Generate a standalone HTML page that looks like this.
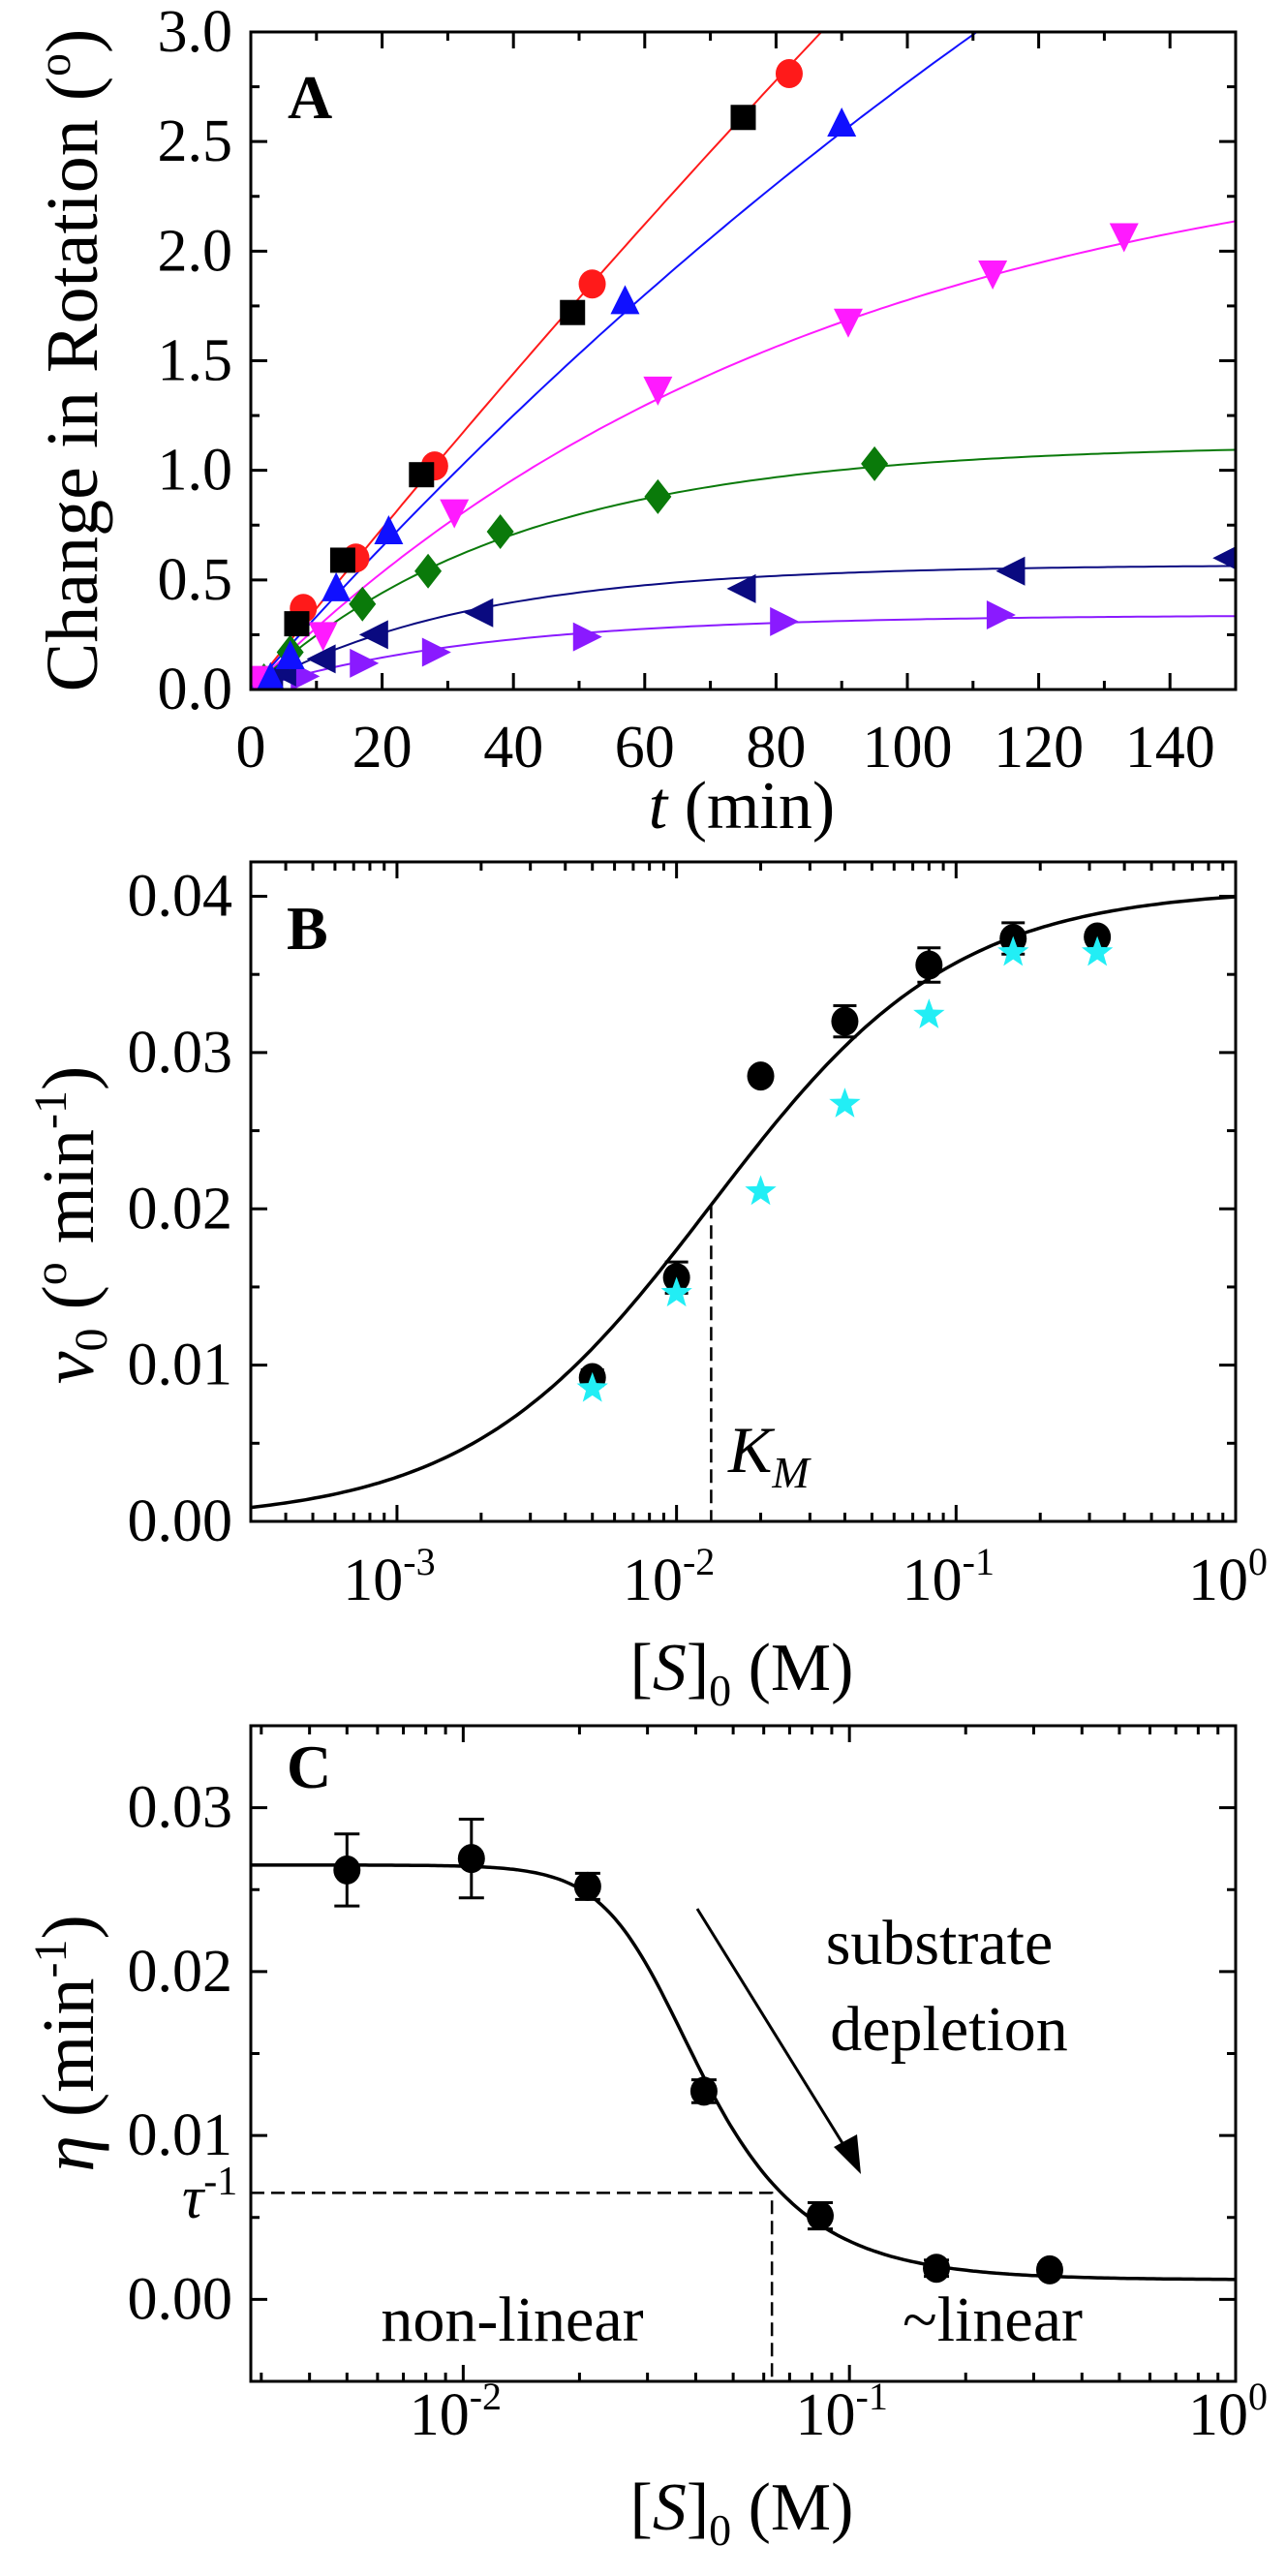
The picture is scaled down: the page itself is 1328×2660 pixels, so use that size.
<!DOCTYPE html>
<html><head><meta charset="utf-8"><style>
html,body{margin:0;padding:0;background:#fff;}
svg, svg text, svg tspan{font-family:"Liberation Serif","Times New Roman","Nimbus Roman","DejaVu Serif",serif;}
</style></head><body>
<svg id="fig" width="1328" height="2655" viewBox="0 0 1328 2655" xmlns="http://www.w3.org/2000/svg">
<rect width="1328" height="2655" fill="#fff"/>
</svg>
<script>
// ---------- Panel A data ----------
const aSeriesNames = ["black-squares","red-circles","blue-up","magenta-down","green-diamonds","navy-left","violet-right"];
const aColors = ["#000","#ff1a1a","#1010ff","#ff1aff","#0a7a0a","#0a0a80","#8a1aff"];
const aShapes = ["square","circle","up","down","diamond","left","right"];
const aT0 = [7,14,26,49,75];
const aV0 = [0.30,0.59,0.98,1.72,2.61];
const aT1 = [8,16,28,52,82];
const aV1 = [0.37,0.60,1.02,1.85,2.81];
const aT2 = [3,6,13,21,57,90];
const aV2 = [0.05,0.15,0.46,0.72,1.77,2.58];
const aT3 = [1,11,31,62,91,113,133];
const aV3 = [0.05,0.25,0.81,1.37,1.68,1.90,2.07];
const aT4 = [2,6,17,27,38,62,95];
const aV4 = [0.04,0.17,0.39,0.54,0.72,0.88,1.03];
const aT5 = [3,5,11,19,35,75,116,149];
const aV5 = [0.04,0.08,0.14,0.25,0.35,0.46,0.54,0.60];
const aT6 = [1,8,17,28,51,81,114];
const aV6 = [0.02,0.06,0.12,0.17,0.24,0.31,0.34];
const aFitA = [null,20,8,2.6,1.12,0.57,0.34];
const aFitK = [null,0.00187,0.00425,0.0115,0.025,0.03,0.028];
const aXTicks = [0,20,40,60,80,100,120,140];
const aYTicks = [0.0,0.5,1.0,1.5,2.0,2.5,3.0];
const aYLabels = ["0.0","0.5","1.0","1.5","2.0","2.5","3.0"];

// ---------- Panel B data ----------
const bS = [0.005,0.01,0.02,0.04,0.08,0.16,0.32];
const bV = [0.0092,0.0156,0.0285,0.0320,0.0356,0.0373,0.0374];
const bErr = [0.0005,0.0010,0.0004,0.0010,0.0011,0.0010,0.0003];
const bStar = [0.0085,0.0146,0.0211,0.0267,0.0324,0.0364,0.0364];
const bVmax = [0.0405];
const bKm = [0.0133];
const bYTicks = [0,0.01,0.02,0.03,0.04];
const bYLabels = ["0.00","0.01","0.02","0.03","0.04"];
const bXDecades = [-3,-2,-1,0];

// ---------- Panel C data ----------
const cS = [0.005,0.0105,0.021,0.042,0.084,0.168,0.33];
const cEta = [0.0262,0.0269,0.0252,0.0127,0.0051,0.0019,0.0018];
const cErr = [0.0022,0.0024,0.0008,0.0007,0.0008,0.0005,0.0003];
const cFit = [0.0265,0.0012,0.031,4.5,0.45];
const cTau = [0.0065,0.063];
const cYTicks = [0,0.01,0.02,0.03];
const cYLabels = ["0.00","0.01","0.02","0.03"];
const cXDecades = [-2,-1,0];

const NS="http://www.w3.org/2000/svg";
const FONT='"Liberation Serif","Times New Roman","Nimbus Roman","DejaVu Serif",serif';
const svg=document.getElementById('fig');
function el(tag,attrs,parent){const e=document.createElementNS(NS,tag);for(const k in attrs)e.setAttribute(k,attrs[k]);(parent||svg).appendChild(e);return e;}

const L=259,R=1276;
const A={top:33,bot:712,xmin:0,xmax:150,ymin:0,ymax:3.0};
const B={top:890,bot:1571,lmin:Math.log10(3e-4),lmax:0,ymin:0,ymax:0.0422};
const C={top:1782,bot:2459,lmin:-2.55,lmax:0,ymin:-0.005,ymax:0.035};
const axA={x:t=>L+(t-A.xmin)/(A.xmax-A.xmin)*(R-L),y:v=>A.bot-(v-A.ymin)/(A.ymax-A.ymin)*(A.bot-A.top)};
const axB={x:s=>L+(Math.log10(s)-B.lmin)/(B.lmax-B.lmin)*(R-L),y:v=>B.bot-(v-B.ymin)/(B.ymax-B.ymin)*(B.bot-B.top)};
const axC={x:s=>L+(Math.log10(s)-C.lmin)/(C.lmax-C.lmin)*(R-L),y:v=>C.bot-(v-C.ymin)/(C.ymax-C.ymin)*(C.bot-C.top)};

function frame(P,name){
  const r=el('rect',{x:L,y:P.top,width:R-L,height:P.bot-P.top,fill:'none',stroke:'#000','stroke-width':3});
  
  
}
function vtick(x,P,len,g){el('line',{x1:x,y1:P.bot,x2:x,y2:P.bot-len,stroke:'#000','stroke-width':3},g);el('line',{x1:x,y1:P.top,x2:x,y2:P.top+len,stroke:'#000','stroke-width':3},g);}
function htick(y,len,g){el('line',{x1:L,y1:y,x2:L+len,y2:y,stroke:'#000','stroke-width':3},g);el('line',{x1:R,y1:y,x2:R-len,y2:y,stroke:'#000','stroke-width':3},g);}
function text(x,y,str,attrs,parent){const t=el('text',Object.assign({x:x,y:y,'font-size':54,fill:'#000'},attrs||{}),parent);t.style.fontFamily=FONT;t.textContent=str;return t;}

function marker(shape,x,y,color,parent){
  let m;const s=15;
  if(shape==='circle') m=el('ellipse',{cx:x,cy:y,rx:14,ry:15,fill:color},parent);
  else if(shape==='square') m=el('rect',{x:x-13,y:y-13,width:26,height:26,fill:color},parent);
  else{
    let p;
    if(shape==='up')p=[[x,y-s-2],[x-s,y+s-2],[x+s,y+s-2]];
    if(shape==='down')p=[[x,y+s+2],[x-s,y-s+2],[x+s,y-s+2]];
    if(shape==='left')p=[[x-s-2,y],[x+s-2,y-s],[x+s-2,y+s]];
    if(shape==='right')p=[[x+s+2,y],[x-s+2,y-s],[x-s+2,y+s]];
    if(shape==='diamond')p=[[x,y-18],[x+14,y],[x,y+18],[x-14,y]];
    if(shape==='star'){p=[];for(let i=0;i<10;i++){const a=-Math.PI/2+i*Math.PI/5;const r=i%2?7:17;p.push([x+r*Math.cos(a),y+r*Math.sin(a)]);}}
    m=el('polygon',{points:p.map(q=>q.join(',')).join(' '),fill:color},parent);
  }
  return m;
}

// ================= Panel A =================
const gA=el('g',{});
const clipA=el('clipPath',{id:'clipA'});el('rect',{x:L,y:A.top,width:R-L,height:A.bot-A.top},clipA);
const curvesA=el('g',{'clip-path':'url(#clipA)'},gA);
for(let i=1;i<aFitA.length;i++){
  let d='';for(let t=0;t<=150;t+=1){const v=aFitA[i]*(1-Math.exp(-aFitK[i]*t));d+=(t?'L':'M')+axA.x(t).toFixed(1)+','+axA.y(v).toFixed(1);}
  const p=el('path',{d:d,fill:'none',stroke:aColors[i],'stroke-width':2},curvesA);
  
  
}
const aTs=[aT0,aT1,aT2,aT3,aT4,aT5,aT6],aVs=[aV0,aV1,aV2,aV3,aV4,aV5,aV6];
for(let i=aTs.length-1;i>=0;i--){
  const g=el('g',{},curvesA);
  
  
  aTs[i].forEach((t,j)=>{const m=marker(aShapes[i],axA.x(t),axA.y(aVs[i][j]),aColors[i],g);
    
    });
}
frame(A,'panel-a');
for(let t=0;t<=150;t+=10){vtick(axA.x(t),A,t%20===0?17:9,gA);}
aXTicks.forEach(t=>{const tx=text(axA.x(t),A.bot+80,String(t),{'text-anchor':'middle','font-size':62},gA);
  });
for(let v=0;v<=3.0001;v+=0.25){htick(axA.y(v),Math.abs(v*2-Math.round(v*2))<1e-6?17:9,gA);}
aYTicks.forEach((v,i)=>{const tx=text(240,axA.y(v)+20,aYLabels[i],{'text-anchor':'end','font-size':62},gA);
  });
let t1=text(0,0,'',{'text-anchor':'middle','font-size':76,transform:'translate(100,372) rotate(-90)'},gA);
t1.innerHTML='Change in Rotation (<tspan dy="-28" font-size="48">o</tspan><tspan dy="28">)</tspan>';

t1=text(766,855,'',{'text-anchor':'middle','font-size':70},gA);
t1.innerHTML='<tspan font-style="italic">t</tspan> (min)';

t1=text(297,122,'A',{'font-size':64,'font-weight':'bold'},gA);


// ================= Panel B =================
const gB=el('g',{});
let d='';for(let i=0;i<=200;i++){const l=B.lmin+(B.lmax-B.lmin)*i/200;const s=Math.pow(10,l);const v=bVmax[0]*s/(bKm[0]+s);d+=(i?'L':'M')+axB.x(s).toFixed(1)+','+axB.y(v).toFixed(1);}
t1=el('path',{d:d,fill:'none',stroke:'#000','stroke-width':3.5},gB);

t1=el('line',{x1:axB.x(bKm[0]),x2:axB.x(bKm[0]),y1:axB.y(bVmax[0]/2),y2:B.bot,stroke:'#000','stroke-width':2.5,'stroke-dasharray':'14,7'},gB);

const gBc=el('g',{},gB);
bS.forEach((s,i)=>{const x=axB.x(s);
  el('line',{x1:x,x2:x,y1:axB.y(bV[i]-bErr[i]),y2:axB.y(bV[i]+bErr[i]),stroke:'#000','stroke-width':3},gBc);
  el('line',{x1:x-12,x2:x+12,y1:axB.y(bV[i]+bErr[i]),y2:axB.y(bV[i]+bErr[i]),stroke:'#000','stroke-width':3},gBc);
  el('line',{x1:x-12,x2:x+12,y1:axB.y(bV[i]-bErr[i]),y2:axB.y(bV[i]-bErr[i]),stroke:'#000','stroke-width':3},gBc);
  const m=marker('circle',x,axB.y(bV[i]),'#000',gBc);
  });
const gBs=el('g',{},gB);
bS.forEach((s,i)=>{const m=marker('star',axB.x(s),axB.y(bStar[i]),'#22eef5',gBs);
  });
frame(B,'panel-b');
function logTicks(P,ax,lmin){
  for(let e=-4;e<=0;e++)for(let k=1;k<10;k++){const s=k*Math.pow(10,e);if(Math.log10(s)<lmin-1e-9||s>1.0001)continue;vtick(ax.x(s),P,k===1?17:9,svg);}
}
logTicks(B,axB,B.lmin);
bXDecades.forEach(e=>{const tx=text(axB.x(Math.pow(10,e))-8,B.bot+81,'',{'text-anchor':'middle','font-size':62},gB);
  tx.innerHTML='10<tspan dy="-26" font-size="40">'+e+'</tspan>';
  });
for(let i=0;i<=8;i++){htick(axB.y(i*0.005),i%2?9:17,gB);}
bYTicks.forEach((v,i)=>{const tx=text(240,axB.y(v)+20,bYLabels[i],{'text-anchor':'end','font-size':62},gB);
  });
t1=text(0,0,'',{'text-anchor':'middle','font-size':76,transform:'translate(96,1265) rotate(-90)'},gB);
t1.innerHTML='<tspan font-style="italic">v</tspan><tspan dy="14" font-size="48">0</tspan><tspan dy="-14"> (</tspan><tspan dy="-28" font-size="48">o</tspan><tspan dy="28"> min</tspan><tspan dy="-28" font-size="48">-1</tspan><tspan dy="28">)</tspan>';

t1=text(766,1745,'',{'text-anchor':'middle','font-size':70},gB);
t1.innerHTML='[<tspan font-style="italic">S</tspan>]<tspan dy="16" font-size="46">0</tspan><tspan dy="-16"> (M)</tspan>';

t1=text(752,1520,'',{'font-size':68,'font-style':'italic'},gB);
t1.innerHTML='K<tspan dy="16" font-size="46">M</tspan>';

t1=text(296,980,'B',{'font-size':64,'font-weight':'bold'},gB);


// ================= Panel C =================
const gC=el('g',{});
d='';for(let i=0;i<=300;i++){const l=C.lmin+(C.lmax-C.lmin)*i/300;const s=Math.pow(10,l);
  const v=cFit[1]+(cFit[0]-cFit[1])/Math.pow(1+Math.pow(s/cFit[2],cFit[3]),cFit[4]);d+=(i?'L':'M')+axC.x(s).toFixed(1)+','+axC.y(v).toFixed(1);}
t1=el('path',{d:d,fill:'none',stroke:'#000','stroke-width':3.5},gC);

t1=el('path',{d:'M'+L+','+axC.y(cTau[0])+'H'+axC.x(cTau[1])+'V'+C.bot,fill:'none',stroke:'#000','stroke-width':2.5,'stroke-dasharray':'14,7'},gC);

const gCc=el('g',{},gC);
cS.forEach((s,i)=>{const x=axC.x(s);
  el('line',{x1:x,x2:x,y1:axC.y(cEta[i]-cErr[i]),y2:axC.y(cEta[i]+cErr[i]),stroke:'#000','stroke-width':3},gCc);
  el('line',{x1:x-13,x2:x+13,y1:axC.y(cEta[i]+cErr[i]),y2:axC.y(cEta[i]+cErr[i]),stroke:'#000','stroke-width':3},gCc);
  el('line',{x1:x-13,x2:x+13,y1:axC.y(cEta[i]-cErr[i]),y2:axC.y(cEta[i]-cErr[i]),stroke:'#000','stroke-width':3},gCc);
  const m=marker('circle',x,axC.y(cEta[i]),'#000',gCc);
  });
frame(C,'panel-c');
logTicks(C,axC,C.lmin);
cXDecades.forEach(e=>{const tx=text(axC.x(Math.pow(10,e))-8,2514,'',{'text-anchor':'middle','font-size':62},gC);
  tx.innerHTML='10<tspan dy="-26" font-size="40">'+e+'</tspan>';
  });
for(let i=-1;i<=7;i++){htick(axC.y(i*0.005),i%2?9:17,gC);}
cYTicks.forEach((v,i)=>{const tx=text(240,axC.y(v)+20,cYLabels[i],{'text-anchor':'end','font-size':62},gC);
  });
t1=text(0,0,'',{'text-anchor':'middle','font-size':76,transform:'translate(96,2110) rotate(-90)'},gC);
t1.innerHTML='<tspan font-style="italic">η</tspan> (min<tspan dy="-28" font-size="48">-1</tspan><tspan dy="28">)</tspan>';

t1=text(766,2612,'',{'text-anchor':'middle','font-size':70},gC);
t1.innerHTML='[<tspan font-style="italic">S</tspan>]<tspan dy="16" font-size="46">0</tspan><tspan dy="-16"> (M)</tspan>';

t1=text(188,2290,'',{'font-size':62,'font-style':'italic'},gC);
t1.innerHTML='τ<tspan dy="-24" font-size="42" font-style="normal">-1</tspan>';

t1=text(970,2028,'substrate',{'text-anchor':'middle','font-size':66},gC);

t1=text(980,2117,'depletion',{'text-anchor':'middle','font-size':66},gC);

t1=text(529,2417,'non-linear',{'text-anchor':'middle','font-size':66},gC);

t1=text(1025,2417,'~linear',{'text-anchor':'middle','font-size':66},gC);

const arr=el('g',{},gC);
el('line',{x1:720,y1:1971,x2:878,y2:2226,stroke:'#000','stroke-width':3},arr);
el('polygon',{points:'889,2245 861,2217 885,2204',fill:'#000'},arr);
t1=text(296,1846,'C',{'font-size':64,'font-weight':'bold'},gC);

</script>
</body></html>
